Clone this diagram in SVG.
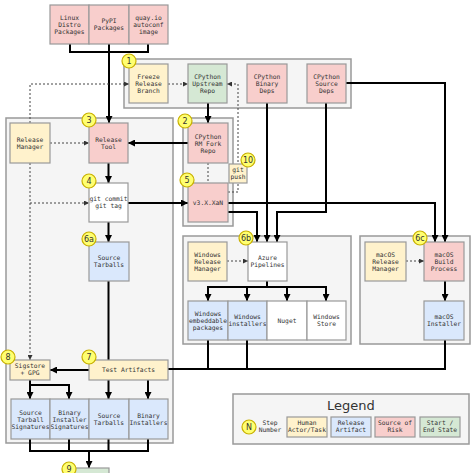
<svg xmlns="http://www.w3.org/2000/svg" width="474" height="473" viewBox="0 0 474 473">
<defs>
<marker id="a" viewBox="0 0 10 10" refX="10" refY="5" markerWidth="7" markerHeight="7" markerUnits="userSpaceOnUse" orient="auto"><path d="M0,0 L10,5 L0,10 z" fill="#000"/></marker>
<marker id="d" viewBox="0 0 10 10" refX="10" refY="5" markerWidth="5" markerHeight="5" markerUnits="userSpaceOnUse" orient="auto"><path d="M0,0 L10,5 L0,10 z" fill="#333"/></marker>
<style>
.grp{fill:#f5f5f5;stroke:#999;stroke-width:1.5}
.n{stroke:#999;stroke-width:1.2}
.h{fill:#fff2cc}.b{fill:#dae8fc}.r{fill:#f8cecc}.g{fill:#d5e8d4}.w{fill:#fff}
text{font-family:"DejaVu Sans Mono","Liberation Mono",monospace;font-size:6.3px;fill:#333;text-anchor:middle}
.s{fill:none;stroke:#000;stroke-width:2}
.sa{fill:none;stroke:#000;stroke-width:2;marker-end:url(#a)}
.dt{fill:none;stroke:#444;stroke-width:1;stroke-dasharray:2,2}
.dta{fill:none;stroke:#444;stroke-width:1;stroke-dasharray:2,2;marker-end:url(#d)}
.c{fill:#ffff70;stroke:#c8b000;stroke-width:1.2}
.cn{font-family:"DejaVu Sans","Liberation Sans",sans-serif;font-size:8px;fill:#333}
</style>
</defs>
<rect width="474" height="473" fill="#fff"/>
<g id="groups">
<rect class="grp" x="124" y="59" width="227" height="49"/>
<rect class="grp" x="6" y="118" width="167" height="325"/>
<rect class="grp" x="183" y="118" width="50" height="108"/>
<rect class="grp" x="183" y="236" width="168" height="108"/>
<rect class="grp" x="360" y="236" width="110" height="108"/>
</g>
<g id="connectors">
<path class="s" d="M70,44 V52 H148 V44"/>
<path class="sa" d="M109,44 V123"/>
<path class="sa" d="M208,103 V123"/>
<path class="sa" d="M188,143 H128"/>
<path class="sa" d="M108.5,163 V183"/>
<path class="sa" d="M128,203 H188"/>
<path class="sa" d="M108.5,222 V242"/>
<path class="s" d="M108.5,281 V360"/>
<path class="sa" d="M228,212 H257 V242"/>
<path class="sa" d="M267,103 V242"/>
<path class="sa" d="M326,103 V212 H277 V242"/>
<path class="sa" d="M228,203 H435 V242"/>
<path class="sa" d="M346,83 H445 V242"/>
<path class="sa" d="M267,281 V287 H208 V301"/>
<path class="sa" d="M267,287 H326 V301"/>
<path class="sa" d="M247,287 V301"/>
<path class="sa" d="M287,287 V301"/>
<path class="sa" d="M445,281 V301"/>
<path class="s" d="M445,340 V369 H168"/>
<path class="s" d="M208,340 V369 M247,340 V369"/>
<path class="sa" d="M89,370 H50"/>
<path class="sa" d="M30,380 V399"/>
<path class="sa" d="M30,385 H69 V399"/>
<path class="sa" d="M108.5,380 V399"/>
<path class="sa" d="M148,380 V399"/>
<path class="s" d="M30,439 V451 H148 V439 M69,439 V451 M108.5,439 V451"/>
<path class="sa" d="M89,451 V468"/>
<path class="dta" d="M30,123 V84 H129"/>
<path class="dta" d="M168,84 H188"/>
<path class="dta" d="M50,143 H89"/>
<path class="dta" d="M30,163 V203 H89"/>
<path class="dta" d="M30,203 V360"/>
<path class="dta" d="M228,192 H238 V84 H227"/>
<path class="dt" d="M208,163 V183"/>
<path class="dta" d="M227,261 H248"/>
<path class="dta" d="M406,261 H424"/>
</g>
<g id="n-linux"><rect class="n r" x="50" y="5" width="39" height="39"/><text x="69.5" y="19.5">Linux</text><text x="69.5" y="26.5">Distro</text><text x="69.5" y="33.5">Packages</text></g>
<g id="n-pypi"><rect class="n r" x="89" y="5" width="40" height="39"/><text x="109" y="23">PyPI</text><text x="109" y="30">Packages</text></g>
<g id="n-quay"><rect class="n r" x="129" y="5" width="39" height="39"/><text x="148.5" y="19.5">quay.io</text><text x="148.5" y="26.5">autoconf</text><text x="148.5" y="33.5">image</text></g>
<g id="n-freeze"><rect class="n h" x="129" y="64" width="39" height="39"/><text x="148.5" y="78.5">Freeze</text><text x="148.5" y="85.5">Release</text><text x="148.5" y="92.5">Branch</text></g>
<g id="n-upstream"><rect class="n g" x="188" y="64" width="39" height="39"/><text x="207.5" y="78.5">CPython</text><text x="207.5" y="85.5">Upstream</text><text x="207.5" y="92.5">Repo</text></g>
<g id="n-bindeps"><rect class="n r" x="247" y="64" width="40" height="39"/><text x="267" y="78.5">CPython</text><text x="267" y="85.5">Binary</text><text x="267" y="92.5">Deps</text></g>
<g id="n-srcdeps"><rect class="n r" x="307" y="64" width="39" height="39"/><text x="326.5" y="78.5">CPython</text><text x="326.5" y="85.5">Source</text><text x="326.5" y="92.5">Deps</text></g>
<g id="n-rm"><rect class="n h" x="10" y="123" width="40" height="40"/><text x="30" y="142">Release</text><text x="30" y="149">Manager</text></g>
<g id="n-tool"><rect class="n r" x="89" y="123" width="39" height="40"/><text x="108.5" y="142">Release</text><text x="108.5" y="149">Tool</text></g>
<g id="n-fork"><rect class="n r" x="188" y="123" width="40" height="40"/><text x="208" y="138.5">CPython</text><text x="208" y="145.5">RM Fork</text><text x="208" y="152.5">Repo</text></g>
<g id="n-gitpush"><rect class="n h" x="229" y="164" width="18" height="19"/><text x="238" y="172">git</text><text x="238" y="179">push</text></g>
<g id="n-commit"><rect class="n w" x="89" y="183" width="39" height="39"/><text x="108.5" y="201">git commit</text><text x="108.5" y="208">git tag</text></g>
<g id="n-v3"><rect class="n r" x="188" y="183" width="40" height="39"/><text x="208" y="204.5">v3.X.XaN</text></g>
<g id="n-srctar"><rect class="n b" x="89" y="242" width="40" height="39"/><text x="109" y="260">Source</text><text x="109" y="267">Tarballs</text></g>
<g id="n-winrm"><rect class="n h" x="188" y="242" width="39" height="39"/><text x="207.5" y="256.5">Windows</text><text x="207.5" y="263.5">Release</text><text x="207.5" y="270.5">Manager</text></g>
<g id="n-azure"><rect class="n w" x="248" y="242" width="39" height="39"/><text x="267.5" y="260">Azure</text><text x="267.5" y="267">Pipelines</text></g>
<g id="n-winemb"><rect class="n b" x="188" y="301" width="40" height="39"/><text x="208" y="315.5">Windows</text><text x="208" y="322.5">embeddable</text><text x="208" y="329.5">packages</text></g>
<g id="n-wininst"><rect class="n b" x="228" y="301" width="39" height="39"/><text x="247.5" y="319">Windows</text><text x="247.5" y="326">installers</text></g>
<g id="n-nuget"><rect class="n w" x="267" y="301" width="40" height="39"/><text x="287" y="322.5">Nuget</text></g>
<g id="n-winstore"><rect class="n w" x="307" y="301" width="39" height="39"/><text x="326.5" y="319">Windows</text><text x="326.5" y="326">Store</text></g>
<g id="n-macrm"><rect class="n h" x="365" y="242" width="41" height="39"/><text x="385.5" y="256.5">macOS</text><text x="385.5" y="263.5">Release</text><text x="385.5" y="270.5">Manager</text></g>
<g id="n-macbuild"><rect class="n r" x="424" y="242" width="40" height="39"/><text x="444" y="256.5">macOS</text><text x="444" y="263.5">Build</text><text x="444" y="270.5">Process</text></g>
<g id="n-macinst"><rect class="n b" x="424" y="301" width="40" height="39"/><text x="444" y="319">macOS</text><text x="444" y="326">Installer</text></g>
<g id="n-sigstore"><rect class="n h" x="10" y="360" width="40" height="20"/><text x="30" y="368">Sigstore</text><text x="30" y="375">+ GPG</text></g>
<g id="n-test"><rect class="n h" x="89" y="360" width="79" height="20"/><text x="128.5" y="372">Test Artifacts</text></g>
<g id="n-srcsig"><rect class="n b" x="11" y="399" width="39" height="40"/><text x="30.5" y="414.5">Source</text><text x="30.5" y="421.5">Tarball</text><text x="30.5" y="428.5">Signatures</text></g>
<g id="n-binsig"><rect class="n b" x="50" y="399" width="39" height="40"/><text x="69.5" y="414.5">Binary</text><text x="69.5" y="421.5">Installer</text><text x="69.5" y="428.5">Signatures</text></g>
<g id="n-srctar2"><rect class="n b" x="89" y="399" width="40" height="40"/><text x="109" y="418">Source</text><text x="109" y="425">Tarballs</text></g>
<g id="n-bininst"><rect class="n b" x="129" y="399" width="39" height="40"/><text x="148.5" y="418">Binary</text><text x="148.5" y="425">Installers</text></g>
<g id="n-end"><rect class="n g" x="69" y="468" width="40" height="20"/></g>
<g id="steps">
<circle class="c" cx="129" cy="61" r="7"/><text class="cn" x="129" y="64">1</text>
<circle class="c" cx="185" cy="121" r="7"/><text class="cn" x="185" y="124">2</text>
<circle class="c" cx="89" cy="120" r="7"/><text class="cn" x="89" y="123">3</text>
<circle class="c" cx="89" cy="181" r="7"/><text class="cn" x="89" y="184">4</text>
<circle class="c" cx="187" cy="180" r="7"/><text class="cn" x="187" y="183">5</text>
<circle class="c" cx="89" cy="239" r="7"/><text class="cn" x="89" y="242">6a</text>
<circle class="c" cx="246" cy="238" r="7"/><text class="cn" x="246" y="241">6b</text>
<circle class="c" cx="420" cy="238" r="7"/><text class="cn" x="420" y="241">6c</text>
<circle class="c" cx="89" cy="357" r="7"/><text class="cn" x="89" y="360">7</text>
<circle class="c" cx="8" cy="357" r="7"/><text class="cn" x="8" y="360">8</text>
<circle class="c" cx="69" cy="469" r="7"/><text class="cn" x="69" y="472">9</text>
<circle class="c" cx="248" cy="160" r="7"/><text class="cn" x="248" y="163">10</text>
</g>
<g id="legend">
<rect class="grp" x="233" y="394" width="236" height="50"/>
<text x="351" y="410" style="font-family:'DejaVu Sans','Liberation Sans',sans-serif;font-size:13px">Legend</text>
<circle class="c" cx="249" cy="427" r="7"/><text class="cn" x="249" y="430">N</text>
<text x="270" y="425">Step</text><text x="270" y="432">Number</text>
<rect class="n h" x="287" y="417" width="40" height="20"/><text x="307" y="425">Human</text><text x="307" y="432">Actor/Task</text>
<rect class="n b" x="331" y="417" width="40" height="20"/><text x="351" y="425">Release</text><text x="351" y="432">Artifact</text>
<rect class="n r" x="375" y="417" width="40" height="20"/><text x="395" y="425">Source of</text><text x="395" y="432">Risk</text>
<rect class="n g" x="420" y="417" width="40" height="20"/><text x="440" y="425">Start /</text><text x="440" y="432">End State</text>
</g>
</svg>
